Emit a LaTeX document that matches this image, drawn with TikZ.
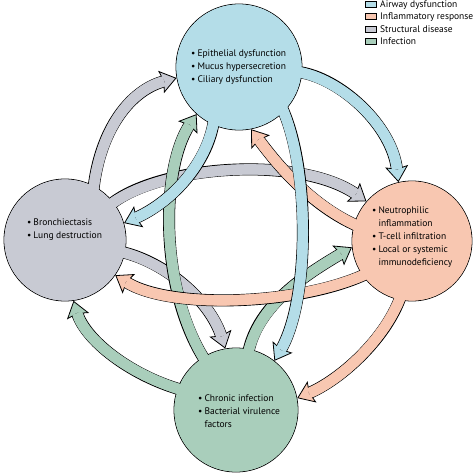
\documentclass[tikz,border=0pt]{standalone}
\usepackage{fontspec}
\setmainfont{PT Sans}
\usetikzlibrary{arrows.meta}
\definecolor{cblue}{HTML}{B4DDE8}
\definecolor{csalmon}{HTML}{F8C7B1}
\definecolor{cgray}{HTML}{C8CAD3}
\definecolor{cgreen}{HTML}{A9CEBB}
\newcommand{\bul}{\makebox[6.3pt][l]{•}}
\newcommand{\ind}{\hspace*{6.3pt}}
\newcommand{\myribbon}[2]{%
  \draw[line width=12pt, black, shorten <=-3pt, shorten >=12pt] #2;
  \draw[line width=10.4pt, #1, shorten <=-6pt, -{Stealth[length=16pt, width=23pt, inset=2.5pt, line width=0.8pt, fill=#1, color=black]}] #2;
  \draw[line width=10.4pt, #1, shorten <=-6pt, shorten >=12.8pt] #2;
}
\begin{document}
\begin{tikzpicture}[x=1pt, y=-1pt,
  hub/.style={circle, draw=black, line width=0.8pt, inner sep=0pt, minimum size=#1},
  hubtext/.style={anchor=west, align=left, inner sep=0pt, text=black, font=\fontsize{9.5}{12.9}\selectfont},
  legbox/.style={draw=black, line width=0.8pt, minimum width=11.5pt, minimum height=6pt, inner sep=0pt},
  legtext/.style={anchor=west, inner sep=0pt, font=\fontsize{9.5}{10}\selectfont}]
\useasboundingbox (0,0) rectangle (474,474);
\fill[white] (0,0) rectangle (474,474);
% circles
\node[hub=126pt, fill=cblue] (airway) at (239,67) {};
\node[hub=122pt, fill=cgray] (struct) at (65,240) {};
\node[hub=120pt, fill=csalmon] (infl) at (412,241) {};
\node[hub=124pt, fill=cgreen] (infect) at (236,410) {};
% gray ribbons
\myribbon{cgray}{(struct.62) .. controls (100,130) and (130,90) .. (airway.190)}
\myribbon{cgray}{(struct.38) .. controls (160,165) and (300,155) .. (infl.139)}
\myribbon{cgray}{(struct.-12) .. controls (165,262) and (210,300) .. (infect.100)}
% green ribbons
\myribbon{cgreen}{(infect.122) .. controls (160,290) and (160,170) .. (airway.-132)}
\myribbon{cgreen}{(infect.160) .. controls (130,375) and (85,340) .. (struct.-82)}
\myribbon{cgreen}{(infect.78) .. controls (258,305) and (305,275) .. (infl.186)}
% salmon ribbons
\myribbon{csalmon}{(infl.164) .. controls (310,205) and (276,163) .. (airway.-79)}
\myribbon{csalmon}{(infl.-145) .. controls (300,305) and (170,310) .. (struct.-35)}
\myribbon{csalmon}{(infl.-102) .. controls (385,340) and (340,380) .. (infect.11)}
% blue ribbons
\myribbon{cblue}{(airway.-5) .. controls (340,78) and (392,125) .. (infl.103)}
\myribbon{cblue}{(airway.-114) .. controls (207,165) and (170,203) .. (struct.16)}
\myribbon{cblue}{(airway.-45) .. controls (310,170) and (310,300) .. (infect.52)}
% refill circle interiors
\fill[cblue] (airway.center) circle[radius=62.6pt];
\fill[cgray] (struct.center) circle[radius=60.6pt];
\fill[csalmon] (infl.center) circle[radius=59.6pt];
\fill[cgreen] (infect.center) circle[radius=61.6pt];
% texts
\node[hubtext] (airwaytxt) at (191,67) {\bul Epithelial dysfunction\\\bul Mucus hypersecretion\\\bul Ciliary dysfunction};
\node[hubtext] (structtxt) at (27,230) {\bul Bronchiectasis\\\bul Lung destruction};
\node[hubtext] (infltxt) at (372,237) {\bul Neutrophilic\\\ind inflammation\\\bul T-cell infiltration\\\bul Local or systemic\\\ind immunodeficiency};
\node[hubtext] (infecttxt) at (198,411) {\bul Chronic infection\\\bul Bacterial virulence\\\ind factors};
% legend
\node[legbox, fill=cblue] (lg1) at (371,4.7) {};
\node[legtext] (lt1) at (380,4.7) {Airway dysfunction};
\node[legbox, fill=csalmon] (lg2) at (371,16.8) {};
\node[legtext] (lt2) at (380,16.8) {Inflammatory response};
\node[legbox, fill=cgray] (lg3) at (371,29) {};
\node[legtext] (lt3) at (380,29) {Structural disease};
\node[legbox, fill=cgreen] (lg4) at (371,41.2) {};
\node[legtext] (lt4) at (380,41.2) {Infection};
\end{tikzpicture}
\end{document}
